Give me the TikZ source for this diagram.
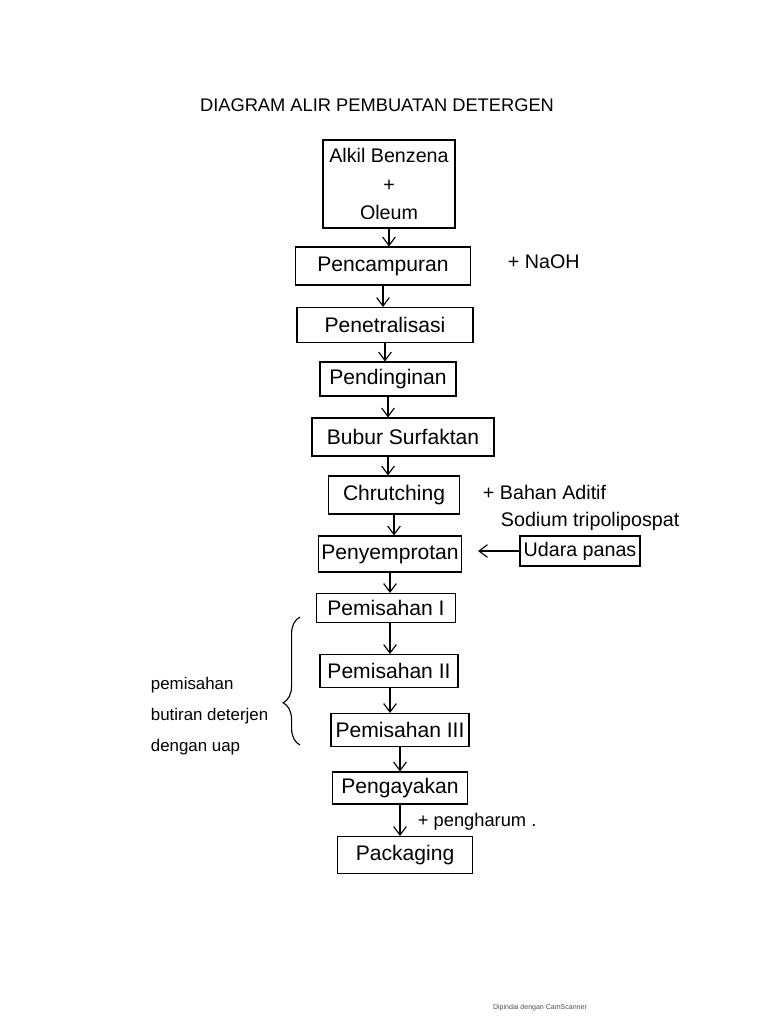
\documentclass[tikz,border=0pt]{standalone}
\usepackage{fontspec}
\setmainfont{Liberation Sans}
\usetikzlibrary{decorations.pathreplacing,arrows.meta}
\tikzset{
  proc/.style={draw,thick,inner sep=0pt,font=\fontsize{15}{18}\selectfont},
  flow/.style={-{Straight Barb[length=6pt,width=9pt]},thick},
  note/.style={font=\fontsize{14}{17}\selectfont},
}
\begin{document}
\begin{tikzpicture}[x=0.025cm,y=-0.025cm]
  \useasboundingbox (0,0) rectangle (768,1024);
  \node[font=\fontsize{13}{16}\selectfont] (title) at (377,105) {DIAGRAM ALIR PEMBUATAN DETERGEN};
  \node[proc,minimum width=3.3cm,minimum height=2.2cm,align=center,font=\fontsize{14}{17}\selectfont] (alkil) at (389,184) {Alkil Benzena\\[3pt] +\\[3pt] Oleum};
  \node[proc,minimum width=4.375cm,minimum height=0.95cm] (campur) at (383,266) {Pencampuran};
  \node[proc,minimum width=4.4cm,minimum height=0.875cm] (netral) at (385,325) {Penetralisasi};
  \node[proc,minimum width=3.4cm,minimum height=0.85cm] (dingin) at (388,379) {Pendinginan};
  \node[proc,minimum width=4.55cm,minimum height=0.95cm] (bubur) at (403,437) {Bubur Surfaktan};
  \node[proc,minimum width=3.275cm,minimum height=0.95cm] (chrut) at (394,495) {Chrutching};
  \node[proc,minimum width=3.575cm,minimum height=0.9cm] (semprot) at (390,554) {Penyemprotan};
  \node[proc,minimum width=3.0cm,minimum height=0.75cm,font=\fontsize{14}{17}\selectfont] (udara) at (580,551) {Udara panas};
  \node[proc,minimum width=3.475cm,minimum height=0.725cm] (pisahA) at (386,608) {Pemisahan I};
  \node[proc,minimum width=3.45cm,minimum height=0.825cm] (pisahB) at (389,671) {Pemisahan II};
  \node[proc,minimum width=3.45cm,minimum height=0.825cm] (pisahC) at (400,730) {Pemisahan III};
  \node[proc,minimum width=3.375cm,minimum height=0.8cm] (ayak) at (400,788) {Pengayakan};
  \node[proc,minimum width=3.375cm,minimum height=0.925cm] (pack) at (405,855) {Packaging};

  \draw[flow] (alkil.south) -- (alkil.south |- campur.north);
  \draw[flow] (campur.south) -- (campur.south |- netral.north);
  \draw[flow] (netral.south) -- (netral.south |- dingin.north);
  \draw[flow] (dingin.south) -- (dingin.south |- bubur.north);
  \draw[flow] (dingin.south |- bubur.south) -- (dingin.south |- chrut.north);
  \draw[flow] (chrut.south) -- (chrut.south |- semprot.north);
  \draw[flow] (udara.west) -- ([xshift=16*0.025cm]semprot.east |- udara.west);
  \draw[flow] (semprot.south) -- (semprot.south |- pisahA.north);
  \draw[flow] (semprot.south |- pisahA.south) -- (semprot.south |- pisahB.north);
  \draw[flow] (semprot.south |- pisahB.south) -- (semprot.south |- pisahC.north);
  \draw[flow] (pisahC.south) -- (pisahC.south |- ayak.north);
  \draw[flow] (ayak.south) -- (ayak.south |- pack.north);

  \node[note,anchor=west] (naoh) at (503,262) {+ NaOH};
  \node[note,anchor=west] (aditif) at (478,492) {+ Bahan Aditif};
  \node[note,anchor=west] (sodium) at (496,521) {Sodium tripolipospat};
  \node[note,anchor=west,font=\fontsize{13}{16}\selectfont] (harum) at (413,822) {+ pengharum .};
  \node[note,anchor=north west,align=left,font=\fontsize{12}{22}\selectfont] (uap) at (146,672) {pemisahan\\butiran deterjen\\dengan uap};
  \draw[thick,decorate,decoration={brace,amplitude=12pt,aspect=0.33}] (300,745) -- (300,617);

  \node[font=\fontsize{5}{6}\selectfont,text=black!70] (scan) at (540,1008) {Dipindai dengan CamScanner};
\end{tikzpicture}
\end{document}
